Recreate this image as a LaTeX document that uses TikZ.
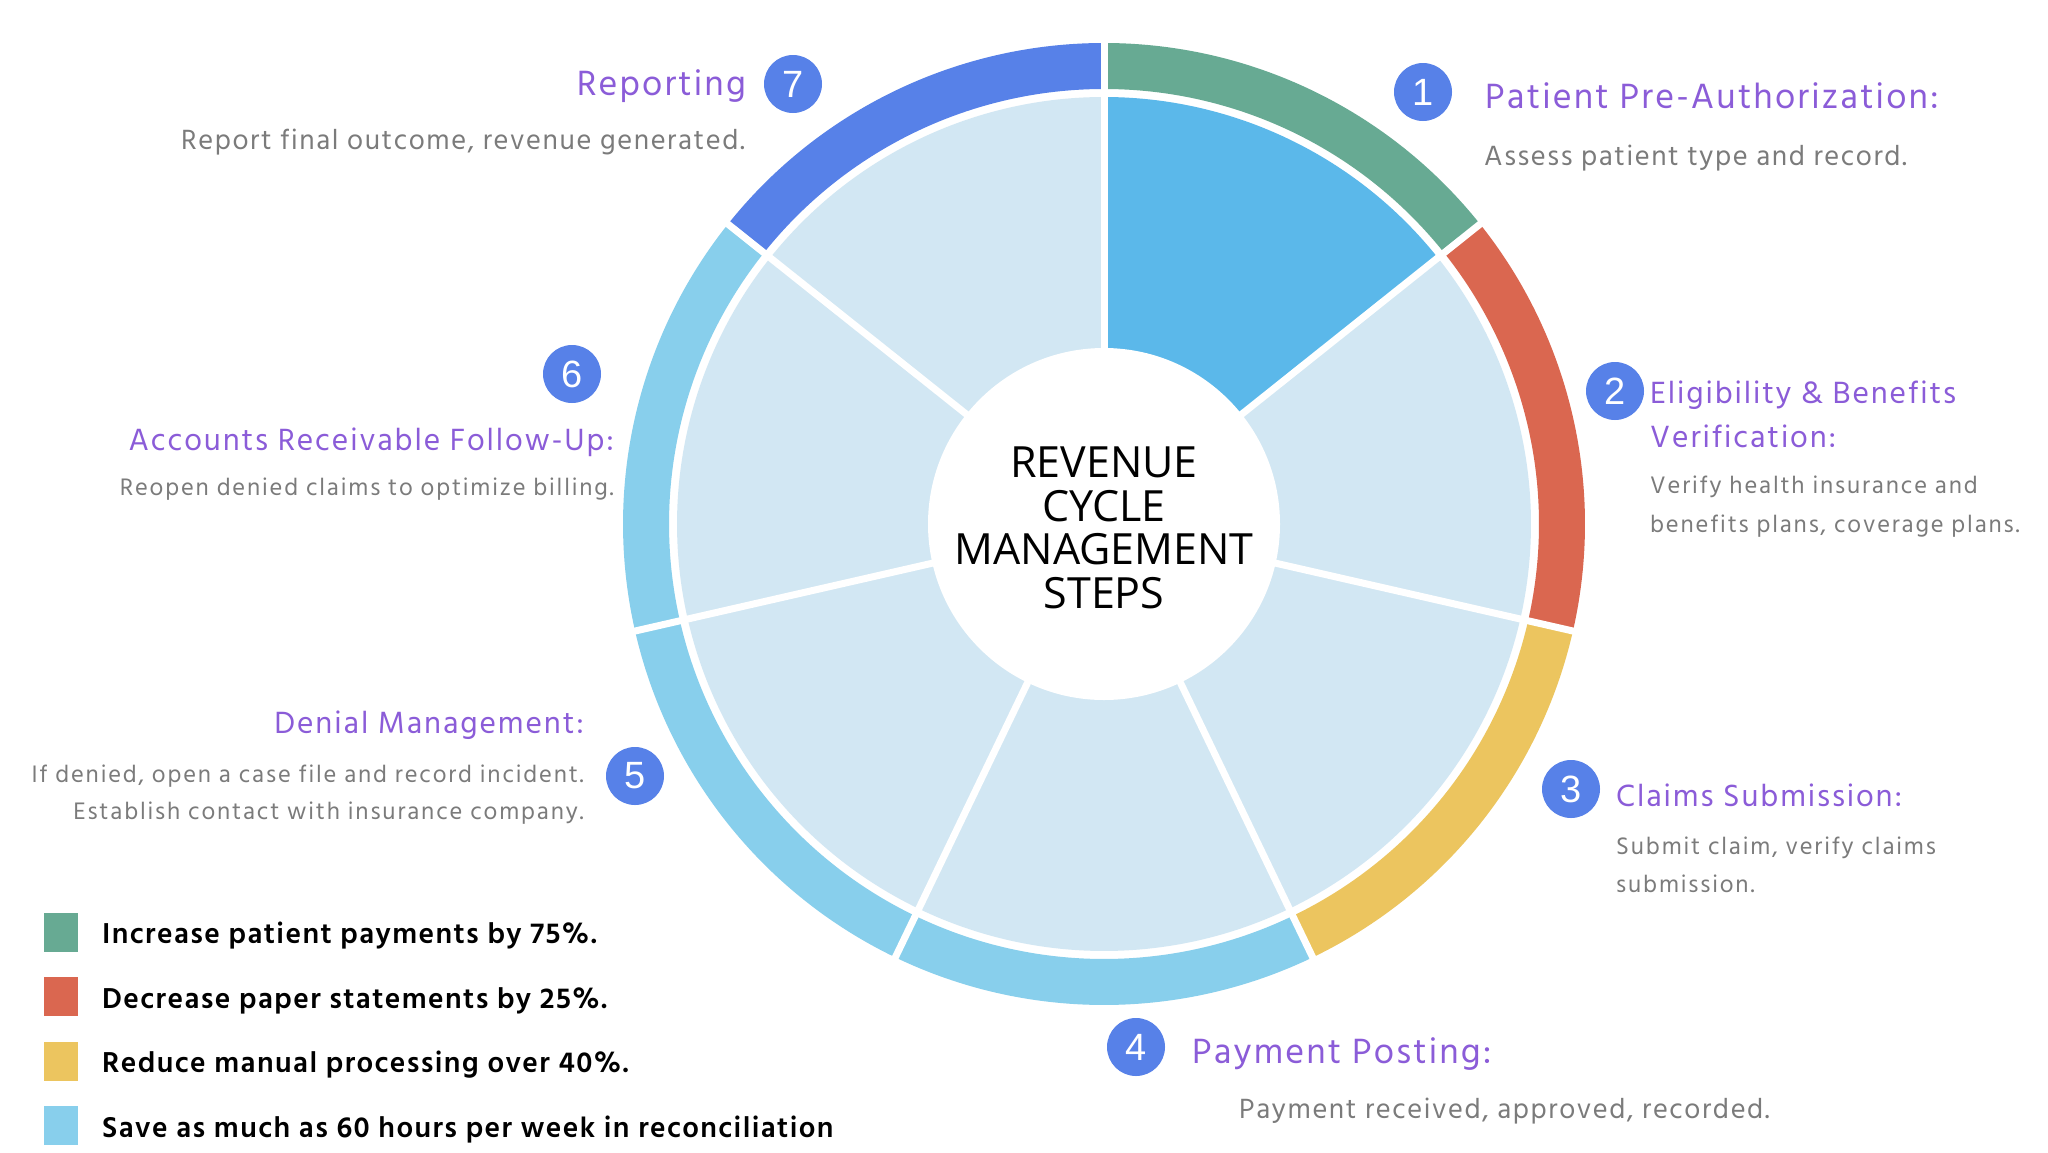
\documentclass[tikz,border=0pt]{standalone}
\usepackage{fontspec}
\newfontfamily\hindtitle{Hind Madurai}[LetterSpace=6]
\newfontfamily\hinddesc{Hind Madurai}[LetterSpace=5.6]
\newfontfamily\hindsdesc{Hind Madurai}[LetterSpace=7.5]
\newfontfamily\hindleg{Hind Madurai}[LetterSpace=4.7]
\newfontfamily\numf{Liberation Sans}
\newfontfamily\ctrf{Open Sans}
\definecolor{cgreen}{HTML}{67AA93}
\definecolor{cred}{HTML}{DA6750}
\definecolor{cyellow}{HTML}{ECC55F}
\definecolor{csky}{HTML}{88CFEC}
\definecolor{cblue}{HTML}{5781E8}
\definecolor{cwedgeone}{HTML}{5BB8EA}
\definecolor{cwedge}{HTML}{D2E7F3}
\definecolor{ctitle}{HTML}{8B5CD8}
\definecolor{cdesc}{HTML}{7B7B7B}
\tikzset{
  bigtitle/.style={font=\hindtitle\fontsize{36}{40}\selectfont, text=ctitle, inner sep=0pt},
  smalltitle/.style={font=\hindtitle\fontsize{31.5}{36}\selectfont, text=ctitle, inner sep=0pt},
  bigdesc/.style={font=\hinddesc\fontsize{28.5}{32}\selectfont, text=cdesc, inner sep=0pt},
  smalldesc/.style={font=\hindsdesc\fontsize{24.5}{28}\selectfont, text=cdesc, inner sep=0pt},
  numcircle/.style={circle, fill=cblue, minimum size=58pt, inner sep=0pt, text=white, font=\numf\fontsize{38}{38}\selectfont},
  legendbox/.style={minimum width=34pt, minimum height=39pt, inner sep=0pt, anchor=north west},
  legendtext/.style={font=\hindleg\bfseries\fontsize{29.5}{32}\selectfont, text=black, inner sep=0pt, anchor=base west},
  gapline/.style={white, line width=7pt},
}
\begin{document}
\begin{tikzpicture}[x=1pt,y=-1pt]
\useasboundingbox[fill=white] (0,0) rectangle (2048,1152);
% wheel
\begin{scope}[shift={(1104,524)}]
  \foreach \i/\rc/\wc in {0/cgreen/cwedgeone,1/cred/cwedge,2/cyellow/cwedge,3/csky/cwedge,4/csky/cwedge,5/csky/cwedge,6/cblue/cwedge}{
    \pgfmathsetmacro\a{-90+\i*360/7}
    \pgfmathsetmacro\b{-90+(\i+1)*360/7}
    \fill[\wc] (0,0) -- (\a:427) arc[start angle=\a, end angle=\b, radius=427] -- cycle;
    \fill[\rc] (\a:481) arc[start angle=\a, end angle=\b, radius=481] -- (\b:435) arc[start angle=\b, end angle=\a, radius=435] -- cycle;
  }
  \foreach \i in {0,...,6}{
    \pgfmathsetmacro\a{-90+\i*360/7}
    \draw[gapline] (0,0) -- (\a:490);
  }
\end{scope}
\node[circle, fill=white, minimum size=352pt, inner sep=0pt] (hub) at (1104,524) {};
\node[font=\ctrf\fontsize{43}{43.7}\selectfont, align=center, inner sep=0pt] (hubtext) at (1104,528) {REVENUE\\CYCLE\\MANAGEMENT\\STEPS};
% number circles
\node[numcircle] (n1) at (1423,92) {1};
\node[numcircle] (n2) at (1615,391) {2};
\node[numcircle] (n3) at (1571,789) {3};
\node[numcircle] (n4) at (1136,1047) {4};
\node[numcircle] (n5) at (635,776) {5};
\node[numcircle] (n6) at (572,374) {6};
\node[numcircle] (n7) at (793,84) {7};
% step 1
\node[bigtitle, anchor=base west] (t1) at (1485,108) {Patient Pre-Authorization:};
\node[bigdesc, anchor=base west] (d1) at (1484,165) {Assess patient type and record.};
% step 2
\node[smalltitle, anchor=base west] (t2a) at (1650,403) {Eligibility \& Benefits};
\node[smalltitle, anchor=base west] (t2b) at (1650,447) {Verification:};
\node[smalldesc, anchor=base west] (d2a) at (1650,493) {Verify health insurance and};
\node[smalldesc, anchor=base west] (d2b) at (1650,532) {benefits plans, coverage plans.};
% step 3
\node[smalltitle, anchor=base west] (t3) at (1616,806) {Claims Submission:};
\node[smalldesc, anchor=base west] (d3a) at (1616,854) {Submit claim, verify claims};
\node[smalldesc, anchor=base west] (d3b) at (1616,892) {submission.};
% step 4
\node[bigtitle, anchor=base west] (t4) at (1192,1063) {Payment Posting:};
\node[bigdesc, anchor=base west] (d4) at (1239,1118) {Payment received, approved, recorded.};
% step 5
\node[smalltitle, anchor=base east] (t5) at (584,733) {Denial Management:};
\node[smalldesc, anchor=base east] (d5a) at (584,782) {If denied, open a case file and record incident.};
\node[smalldesc, anchor=base east] (d5b) at (584,819) {Establish contact with insurance company.};
% step 6
\node[smalltitle, anchor=base east] (t6) at (614,450) {Accounts Receivable Follow-Up:};
\node[smalldesc, anchor=base east] (d6) at (614,495) {Reopen denied claims to optimize billing.};
% step 7
\node[bigtitle, anchor=base east] (t7) at (746,95) {Reporting};
\node[bigdesc, anchor=base east] (d7) at (745,149) {Report final outcome, revenue generated.};
% legend
\node[legendbox, fill=cgreen] (lg1) at (44,913) {};
\node[legendbox, fill=cred] (lg2) at (44,977) {};
\node[legendbox, fill=cyellow] (lg3) at (44,1042) {};
\node[legendbox, fill=csky] (lg4) at (44,1106) {};
\node[legendtext] (lt1) at (102,943) {Increase patient payments by 75\%.};
\node[legendtext] (lt2) at (102,1008) {Decrease paper statements by 25\%.};
\node[legendtext] (lt3) at (102,1072) {Reduce manual processing over 40\%.};
\node[legendtext] (lt4) at (102,1137) {Save as much as 60 hours per week in reconciliation};
\end{tikzpicture}
\end{document}
